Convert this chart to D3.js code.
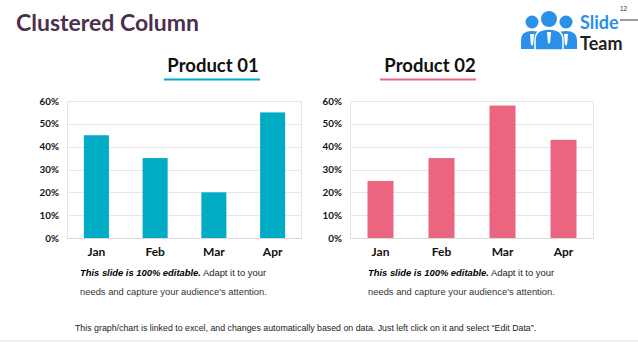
<!DOCTYPE html>
<html><head><meta charset="utf-8">
<script src="https://cdn.jsdelivr.net/npm/d3@7"></script>
<style>body{margin:0;background:#fff}svg{display:block}</style>
</head><body><div id="c"></div>
<script>
const categories = ["Jan","Feb","Mar","Apr"];
const product01 = [0.45,0.35,0.20,0.55];
const product02 = [0.25,0.35,0.58,0.43];
const yTicks = [0,0.1,0.2,0.3,0.4,0.5,0.6];
const titles = ["Product 01","Product 02"];
const colors = ["#00ABC4","#EA6680"];

const W=638,H=359;
const svg=d3.select("#c").append("svg").attr("width",W).attr("height",H);
svg.append("rect").attr("width",W).attr("height",H).attr("fill","#fff");

svg.append("text").attr("x",16).attr("y",31).text("Clustered Column")
  .attr("font-family","Lato").attr("font-weight",700).attr("font-size",23).attr("fill","#4C2F4F");

// logo
const logo=svg.append("g").attr("fill","#2A90E8");
[[532,22,6.5],[566,22,6.5],[549,19,8]].forEach(([cx,cy,r],i)=>{
  logo.append("circle").attr("cx",cx).attr("cy",cy).attr("r",r);
});
logo.append("path").attr("d","M521,49 L521,40 Q521,31 532,31 Q543,31 543,40 L543,49 Z");
logo.append("path").attr("d","M555,49 L555,40 Q555,31 566,31 Q577,31 577,40 L577,49 Z");
logo.append("path").attr("d","M535,50 L535,40 Q535,29 549,29 Q563,29 563,40 L563,50 Z").attr("stroke","#fff").attr("stroke-width",1.5);
[[532,34],[549,32],[566,34]].forEach(([x,y])=>{
  svg.append("path").attr("d",`M${x-2},${y} L${x+2},${y} L${x+1.2},${y+10} L${x},${y+12} L${x-1.2},${y+10} Z`).attr("fill","#fff");
});
svg.append("text").attr("x",580).attr("y",29).text("Slide").attr("font-family","Lato").attr("font-weight",700).attr("font-size",18).attr("fill","#2A90E8");
svg.append("text").attr("x",580).attr("y",50).text("Team").attr("font-family","Lato").attr("font-weight",700).attr("font-size",18).attr("fill","#222");
svg.append("line").attr("x1",620).attr("x2",638).attr("y1",20).attr("y2",20).attr("stroke","#4C2F4F").attr("stroke-width",1);
svg.append("text").attr("x",620).attr("y",11).text("12").attr("font-family","Liberation Sans").attr("font-size",6.5).attr("fill","#333");

const panels=[
  {data:product01,x0:67,x1:302,tx:213,ux:[164,260],note:80},
  {data:product02,x0:350,x1:594,tx:430,ux:[380,476],note:368}
];
const y=d3.scaleLinear().domain([0,0.6]).range([238,101]);
panels.forEach((p,i)=>{
  const g=svg.append("g");
  g.append("text").attr("x",p.tx).attr("y",72).attr("text-anchor","middle").text(titles[i])
    .attr("font-family","Lato").attr("font-weight",700).attr("font-size",18.5).attr("fill","#111");
  g.append("line").attr("x1",p.ux[0]).attr("x2",p.ux[1]).attr("y1",79.5).attr("y2",79.5).attr("stroke",colors[i]).attr("stroke-width",2);
  const x=d3.scaleBand().domain(categories).range([p.x0,p.x1]).paddingInner(0.574).paddingOuter(0.287);
  g.selectAll(".gl").data(yTicks).join("line").attr("x1",p.x0).attr("x2",p.x1)
    .attr("y1",d=>Math.round(y(d))+0.5).attr("y2",d=>Math.round(y(d))+0.5).attr("stroke","#E6E6E6");
  g.append("line").attr("x1",p.x0+0.5).attr("x2",p.x0+0.5).attr("y1",y(0.6)).attr("y2",y(0)).attr("stroke","#E6E6E6");
  g.append("line").attr("x1",p.x1-0.5).attr("x2",p.x1-0.5).attr("y1",y(0.6)).attr("y2",y(0)).attr("stroke","#E6E6E6");
  g.selectAll(".bar").data(p.data).join("rect").attr("x",(d,j)=>x(categories[j])).attr("width",x.bandwidth())
    .attr("y",d=>y(d)).attr("height",d=>y(0)-y(d)).attr("fill",colors[i]);
  g.append("line").attr("x1",p.x0).attr("x2",p.x1).attr("y1",238.5).attr("y2",238.5).attr("stroke","#D9D9D9");
  const ya=d3.axisLeft(y).tickValues(yTicks).tickFormat(d3.format(".0%")).tickSize(0).tickPadding(8);
  const ag=g.append("g").attr("transform",`translate(${p.x0},0)`).call(ya);
  ag.select(".domain").remove();
  ag.selectAll("text").attr("font-family","Lato").attr("font-weight",700).attr("font-size",9.8).attr("fill","#111");
  const xa=d3.axisBottom(x).tickSize(0).tickPadding(9);
  const xg=g.append("g").attr("transform",`translate(0,238)`).call(xa);
  xg.select(".domain").remove();
  xg.selectAll("text").attr("font-family","Lato").attr("font-weight",700).attr("font-size",12).attr("fill","#111");
  const t=g.append("text").attr("x",p.note).attr("y",276).attr("font-family","Liberation Sans").attr("font-size",9.4).attr("fill","#222");
  t.append("tspan").attr("font-weight",700).attr("font-style","italic").attr("fill","#000").text("This slide is 100% editable.");
  t.append("tspan").text(" Adapt it to your");
  g.append("text").attr("x",p.note).attr("y",295).attr("font-family","Liberation Sans").attr("font-size",9.4).attr("fill","#333").text("needs and capture your audience's attention.");
});
svg.append("text").attr("x",75).attr("y",331).text("This graph/chart is linked to excel, and changes automatically based on data. Just left click on it and select \u201cEdit Data\u201d.")
  .attr("font-family","Liberation Sans").attr("font-size",8.8).attr("fill","#222");
svg.append("rect").attr("x",0).attr("y",340).attr("width",W).attr("height",2).attr("fill","#F2F2F2");
</script></body></html>
